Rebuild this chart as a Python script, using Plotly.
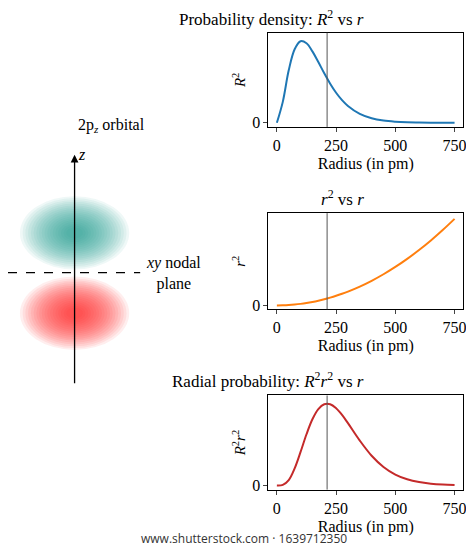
import plotly.graph_objects as go

W, H = 474, 553

# radius grid (pm)
radius = [0, 25, 50, 75, 100, 125, 150, 175, 200, 225, 250, 275, 300,
          350, 400, 450, 500, 550, 600, 650, 700, 750]
# probability density R^2 (normalised)
r2_density = [0, 0.256, 0.641, 0.899, 0.997, 0.972, 0.873, 0.742, 0.605, 0.478,
              0.367, 0.277, 0.206, 0.109, 0.055, 0.027, 0.013, 0.006, 0.003, 0.001, 0.0, 0.0]
# r^2
r_sq = [0, 625, 2500, 5625, 10000, 15625, 22500, 30625, 40000, 50625, 62500,
        75625, 90000, 122500, 160000, 202500, 250000, 302500, 360000, 422500,
        490000, 562500]
# radial probability R^2 r^2 (normalised)
radial_prob = [0, 0.007, 0.066, 0.209, 0.410, 0.626, 0.809, 0.933, 0.992, 0.993,
               0.944, 0.863, 0.762, 0.549, 0.364, 0.227, 0.134, 0.076, 0.042,
               0.023, 0.012, 0.006]
bohr_line = 212
x_ticks = [0, 250, 500, 750]

FONT = "Liberation Serif"


def px(x):
    return x / W


def py(y):
    return 1 - y / H


fig = go.Figure()
series = [(r2_density, "#1f77b4"), (r_sq, "#ff7f0e"), (radial_prob, "#c42a2a")]
for i, (vals, col) in enumerate(series, start=1):
    sfx = "" if i == 1 else str(i)
    fig.add_trace(go.Scatter(x=radius, y=vals, mode="lines",
                             line=dict(color=col, width=2, shape="spline"),
                             xaxis="x" + sfx, yaxis="y" + sfx, showlegend=False))

domains = [(25, 120), (207, 304), (391, 486)]
yranges = [[-0.05, 1.1], [-25000, 600000], [-0.05, 1.1]]
ytitles = ["<i>R</i><sup>2</sup>", "<i>r</i><sup>2</sup>", "<i>R</i><sup>2</sup><i>r</i><sup>2</sup>"]
titles = ["Probability density: <i>R</i><sup>2</sup> vs <i>r</i>",
          "<i>r</i><sup>2</sup> vs <i>r</i>",
          "Radial probability: <i>R</i><sup>2</sup><i>r</i><sup>2</sup> vs <i>r</i>"]

layout = {}
for i, ((top, bot), yr, yt) in enumerate(zip(domains, yranges, ytitles), start=1):
    sfx = "" if i == 1 else str(i)
    layout["xaxis" + sfx] = dict(domain=[px(262), px(458)], anchor="y" + sfx,
                                 range=[-36, 786], tickvals=x_ticks, ticks="outside",
                                 ticklen=4, showgrid=False, zeroline=False,
                                 showline=True, mirror=True, linecolor="black",
                                 title=dict(text="Radius (in pm)", standoff=4,
                                            font=dict(size=16)))
    layout["yaxis" + sfx] = dict(domain=[py(bot), py(top)], anchor="x" + sfx,
                                 range=yr, tickvals=[0], ticks="outside", ticklen=4,
                                 showgrid=False, zeroline=False, showline=True,
                                 mirror=True, linecolor="black",
                                 title=dict(text=yt, standoff=2, font=dict(size=15)))
    fig.add_shape(type="line", xref="x" + sfx, yref="paper", x0=bohr_line, x1=bohr_line,
                  y0=py(bot), y1=py(top), line=dict(color="#555555", width=1))
    fig.add_annotation(text=titles[i - 1], xref="paper", yref="paper",
                       x=px(360), y=py(top - 2), yanchor="bottom", showarrow=False,
                       font=dict(size=17))

# orbital lobes drawn as stacked translucent ellipses
for cy, col in [(227, "rgba(30,150,145,0.07)"), (308, "rgba(255,40,40,0.08)")]:
    for k in range(18):
        s = 1 - k * 0.05
        fig.add_shape(type="circle", xref="paper", yref="paper", layer="below",
                      x0=px(67 - 55 * s), x1=px(67 + 55 * s),
                      y0=py(cy + 37 * s), y1=py(cy - 37 * s),
                      fillcolor=col, line=dict(width=0))

fig.add_annotation(xref="paper", yref="paper", x=px(67), y=py(148), ax=0, ay=230,
                   showarrow=True, arrowhead=2,
                   arrowsize=1.2, arrowwidth=1.3, arrowcolor="black", text="")
fig.add_shape(type="line", xref="paper", yref="paper", x0=0, x1=px(133),
              y0=py(267), y1=py(267), line=dict(color="black", width=1.2, dash="dash"))
fig.add_annotation(text="2p<sub><i>z</i></sub> orbital", xref="paper", yref="paper",
                   x=px(68), y=py(107), showarrow=False, font=dict(size=16))
fig.add_annotation(text="<i>z</i>", xref="paper", yref="paper",
                   x=px(68), y=py(137), showarrow=False, font=dict(size=16))
fig.add_annotation(text="<i>xy</i> nodal<br>plane", xref="paper", yref="paper",
                   x=px(167), y=py(268), showarrow=False, font=dict(size=16))
fig.add_annotation(text="www.shutterstock.com · 1639712350", xref="paper", yref="paper",
                   x=0.5, y=py(546), showarrow=False,
                   font=dict(size=12, family="Open Sans", color="#333333"))

fig.update_layout(width=W, height=H, margin=dict(l=0, r=0, t=0, b=0),
                  plot_bgcolor="white", paper_bgcolor="white",
                  font=dict(family=FONT, size=16, color="black"), **layout)
fig.write_html("out.html")
